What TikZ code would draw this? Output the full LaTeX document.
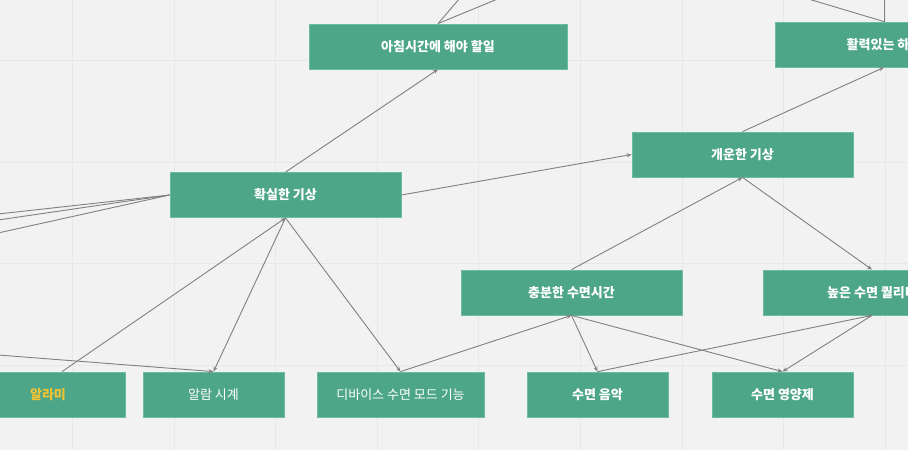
\documentclass[tikz,border=0pt]{standalone}
\usepackage{fontspec}
\setmainfont{Noto Sans CJK KR}
\usetikzlibrary{arrows.meta}
\definecolor{bg}{HTML}{F2F2F2}
\definecolor{boxc}{HTML}{4DA688}
\definecolor{boxb}{HTML}{6DBBA0}
\definecolor{gridc}{HTML}{E8E8E8}
\definecolor{linec}{HTML}{808080}
\definecolor{yel}{HTML}{F2C230}
\tikzset{
  box/.style={draw=boxb,fill=boxc,text=white,font=\bfseries\fontsize{13}{15}\selectfont,minimum height=45pt,inner sep=0pt,line width=0.8pt},
  conn/.style={draw=linec,line width=0.9pt,-{Stealth[length=5pt,width=4pt]}},
  plain/.style={draw=linec,line width=0.9pt}
}
\begin{document}
\begin{tikzpicture}[x=1pt,y=-1pt]
\fill[bg] (0,0) rectangle (908,450);
\useasboundingbox (0,0) rectangle (908,450);
\clip (0,0) rectangle (908,450);
\foreach \x in {72,174,275,377,478,580,682,783,885}{\draw[gridc,line width=0.8pt] (\x,0)--(\x,450);}
\foreach \y in {60,162,263,365}{\draw[gridc,line width=0.8pt] (0,\y)--(908,\y);}
\node[box,minimum width=258pt] (morning) at (438,46.5) {아침시간에 해야 할일};
\node[box,minimum width=218pt] (vital) at (884,44.5) {활력있는 하루};
\node[box,minimum width=221pt] (fresh) at (742.5,154.5) {개운한 기상};
\node[box,minimum width=231pt] (sure) at (285.5,195) {확실한 기상};
\node[box,minimum width=221pt] (enough) at (571.5,292.5) {충분한 수면시간};
\node[box,minimum width=218pt] (quality) at (872,292.5) {높은 수면 퀄리티};
\node[box,minimum width=154pt,text=yel] (alarmy) at (48,394.5) {알라미};
\node[box,minimum width=141pt,font=\fontsize{13}{15}\selectfont] (clock) at (213.5,394.5) {알람 시계};
\node[box,minimum width=167pt,font=\fontsize{13}{15}\selectfont] (device) at (400.5,394.5) {디바이스 수면 모드 기능};
\node[box,minimum width=141pt] (music) at (597.5,394.5) {수면 음악};
\node[box,minimum width=141pt] (supp) at (782.5,394.5) {수면 영양제};
\coordinate (t1) at (460,-2);
\coordinate (t2) at (500,-2);
\coordinate (t3) at (884,-2);
\coordinate (t4) at (805,-2);
\coordinate (l1) at (-2,214);
\coordinate (l2) at (-2,220);
\coordinate (l3) at (-2,233);
\coordinate (l4) at (-2,355);
\draw[plain] (morning.north) -- (t1);
\draw[plain] (morning.north) -- (t2);
\draw[plain] (vital.north) -- (t3);
\draw[plain] (vital.north) -- (t4);
\draw[plain] (sure.west) -- (l1);
\draw[plain] (sure.west) -- (l2);
\draw[plain] (sure.west) -- (l3);
\draw[conn] (sure.north) -- (morning.south);
\draw[conn] (sure.east) -- (fresh.west);
\draw[conn] ([xshift=14pt]alarmy.north) -- (sure.south);
\draw[conn] (sure.south) -- (clock.north);
\draw[conn] (sure.south) -- (device.north);
\draw[conn] (l4) -- (clock.north);
\draw[conn] (device.north) -- (enough.south);
\draw[conn] (enough.north) -- (fresh.south);
\draw[conn] (fresh.south) -- (quality.north);
\draw[conn] (fresh.north) -- (vital.south);
\draw[conn] (enough.south) -- (music.north);
\draw[conn] (enough.south) -- (supp.north);
\draw[conn] (music.north) -- (quality.south);
\draw[conn] (quality.south) -- (supp.north);
\end{tikzpicture}
\end{document}
